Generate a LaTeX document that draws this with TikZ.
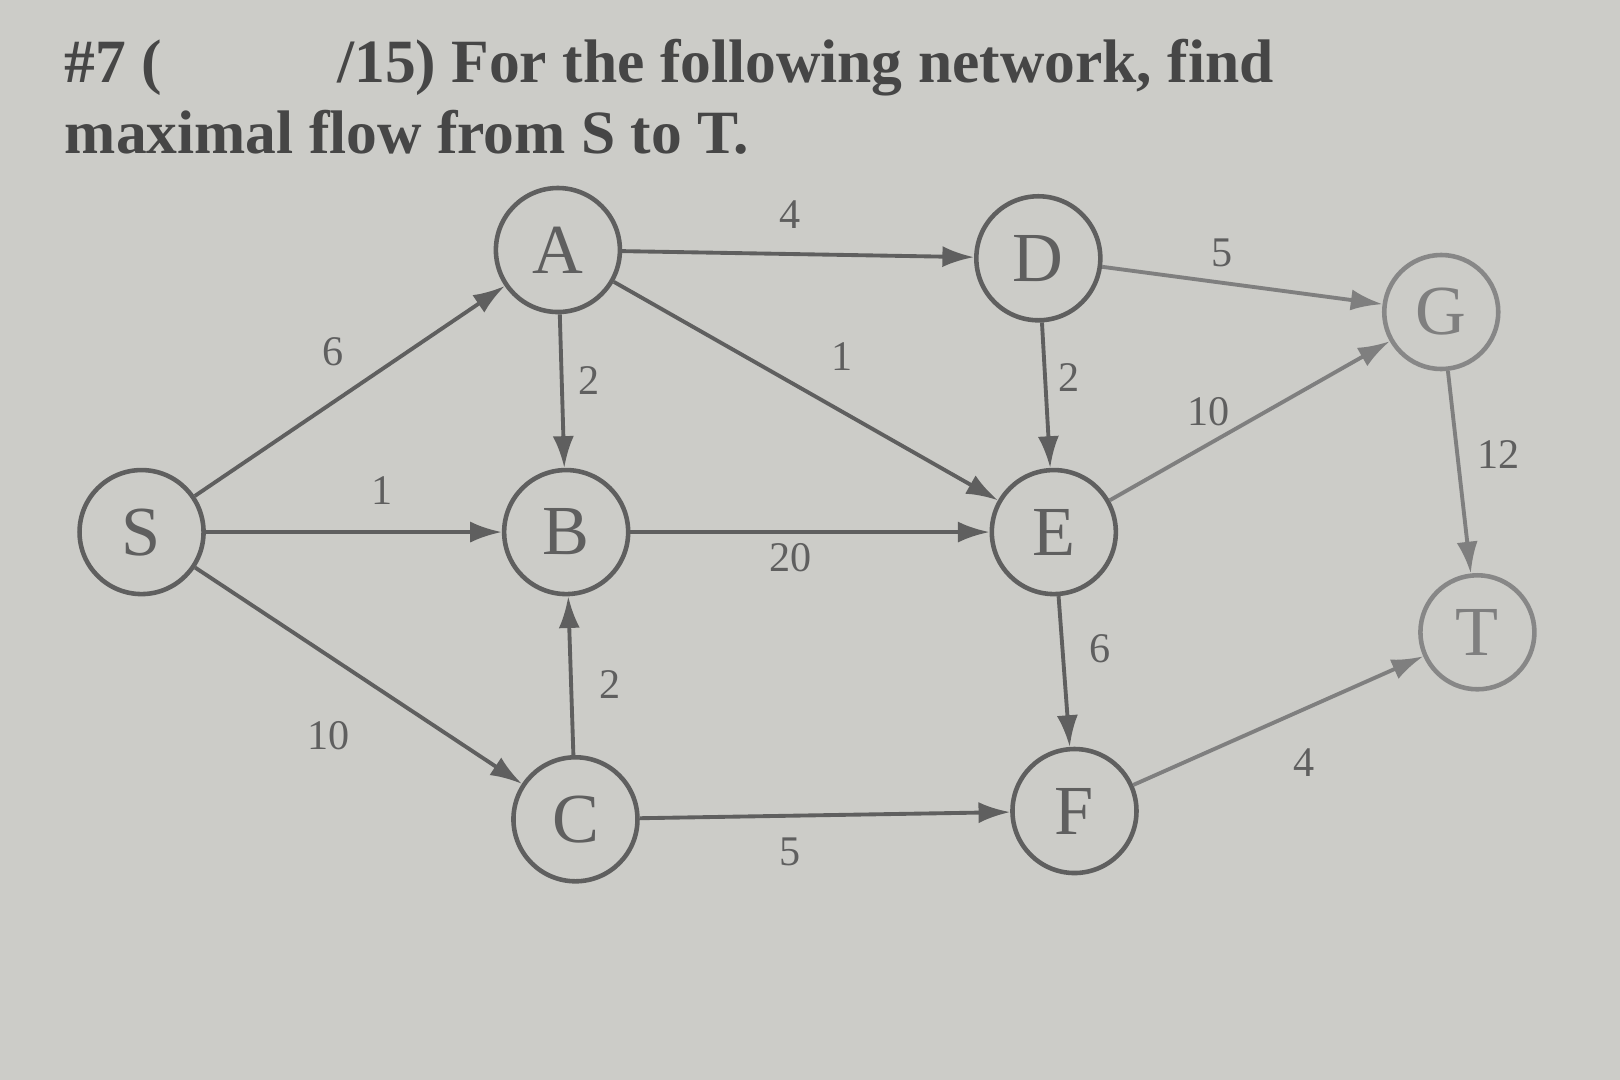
\documentclass[tikz,border=0pt]{standalone}
\usepackage{fontspec}
\setmainfont{Liberation Serif}
\usetikzlibrary{arrows.meta}
\definecolor{bg}{RGB}{204,204,200}
\definecolor{ink}{RGB}{95,95,95}
\definecolor{tink}{RGB}{70,70,70}
\begin{document}
\begin{tikzpicture}[x=0.01033cm,y=-0.01033cm,
  vtx/.style={circle,draw=ink,line width=1.3pt,minimum size=1.24cm,inner sep=0pt,font=\fontsize{20}{20}\selectfont,text=ink},
  svtx/.style={vtx,minimum size=1.14cm,draw=ink!75,text=ink!80},
  edge/.style={draw=ink,line width=1.1pt,-{Latex[length=9pt,width=6pt]}},
  wt/.style={font=\fontsize{12}{12}\selectfont,text=ink}]
\fill[bg] (0,0) rectangle (1568,1045);
\useasboundingbox (0,0) rectangle (1568,1045);
\node[anchor=west,inner sep=0pt,text=tink,font=\fontsize{17.5}{17.5}\bfseries\selectfont] (t1) at (62,65) {\#7 (\hspace{1.75cm}/15) For the following network, find};
\node[anchor=west,inner sep=0pt,text=tink,font=\fontsize{17.5}{17.5}\bfseries\selectfont] (t2) at (62,128) {maximal flow from S to T.};
\node[vtx] (S) at (137,515) {S};
\node[vtx] (A) at (540,242) {A};
\node[vtx] (B) at (548,515) {B};
\node[vtx] (C) at (557,793) {C};
\node[vtx] (D) at (1005,250) {D};
\node[vtx] (E) at (1020,515) {E};
\node[vtx] (F) at (1040,785) {F};
\node[svtx] (G) at (1395,302) {G};
\node[svtx] (T) at (1430,612) {T};
\draw[edge] (S) -- (A);
\draw[edge] (S) -- (B);
\draw[edge] (S) -- (C);
\draw[edge] (A) -- (D);
\draw[edge] (A) -- (B);
\draw[edge] (A) -- (E);
\draw[edge] (C) -- (B);
\draw[edge] (B) -- (E);
\draw[edge] (C) -- (F);
\draw[edge] (D) -- (E);
\draw[edge] (E) -- (F);
\draw[edge,draw=ink!80] (D) -- (G);
\draw[edge,draw=ink!80] (E) -- (G);
\draw[edge,draw=ink!80] (G) -- (T);
\draw[edge,draw=ink!80] (F) -- (T);
\node[wt] (w1) at (765,208) {4};
\node[wt] (w2) at (1183,245) {5};
\node[wt] (w3) at (322,340) {6};
\node[wt] (w4) at (570,368) {2};
\node[wt] (w5) at (815,345) {1};
\node[wt] (w6) at (1035,365) {2};
\node[wt] (w7) at (1170,398) {10};
\node[wt] (w8) at (1450,440) {12};
\node[wt] (w9) at (370,475) {1};
\node[wt] (w10) at (765,540) {20};
\node[wt] (w11) at (590,663) {2};
\node[wt] (w12) at (1065,628) {6};
\node[wt] (w13) at (318,712) {10};
\node[wt] (w14) at (1262,738) {4};
\node[wt] (w15) at (765,825) {5};
\end{tikzpicture}
\end{document}
